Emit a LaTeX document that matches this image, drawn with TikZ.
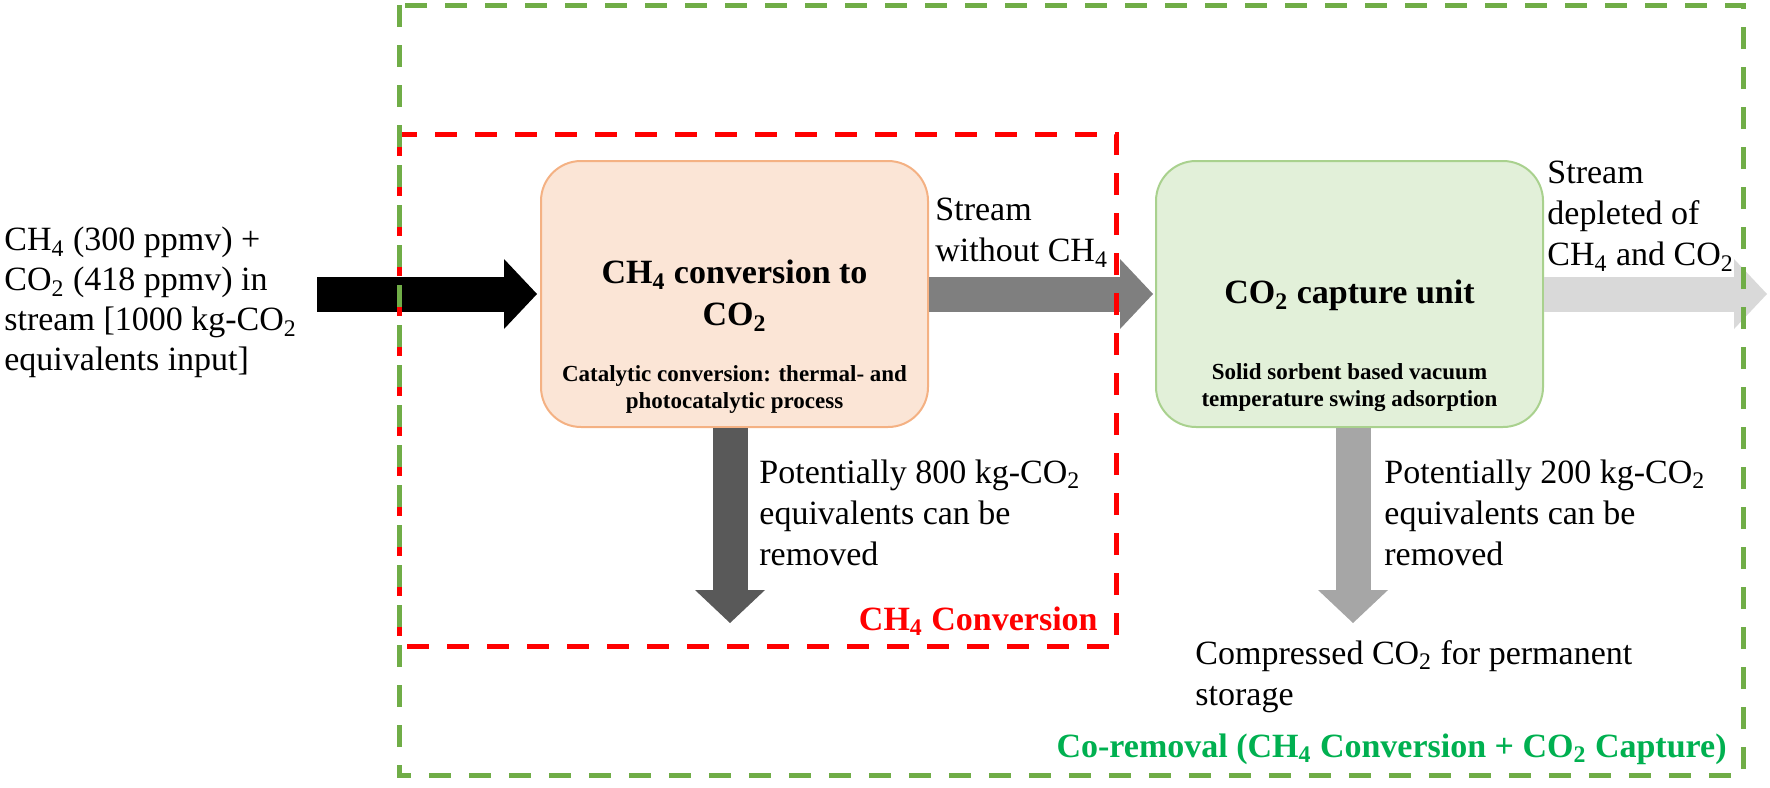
\documentclass[tikz,border=0pt]{standalone}
\usepackage{fontspec}
\setmainfont{Liberation Serif}
\usepackage{xcolor}
\definecolor{convfill}{RGB}{251,229,214}
\definecolor{convline}{RGB}{244,177,131}
\definecolor{capfill}{RGB}{226,240,217}
\definecolor{capline}{RGB}{169,209,142}
\definecolor{zonegreen}{RGB}{112,173,71}
\definecolor{zonered}{RGB}{255,0,0}
\definecolor{labelgreen}{RGB}{0,176,80}
\definecolor{flowdark}{RGB}{89,89,89}
\definecolor{flowmid}{RGB}{127,127,127}
\definecolor{flowlight}{RGB}{217,217,217}
\definecolor{flowdown}{RGB}{166,166,166}
\usepackage{tikz}
\usetikzlibrary{arrows.meta,positioning}

\newcommand{\CHf}{CH\textsubscript{4}}
\newcommand{\COt}{CO\textsubscript{2}}

\begin{document}
\begin{tikzpicture}[
  x=0.5pt, y=-0.5pt,
  unitbox/.style={rounded corners=20pt, line width=1pt, minimum width=193.5pt, minimum height=133pt},
  boxtitle/.style={font=\fontsize{17}{21}\selectfont\bfseries, align=center, inner sep=0pt},
  boxnote/.style={font=\fontsize{11.5}{13.5}\selectfont\bfseries, align=center, inner sep=0pt},
  txt/.style={font=\fontsize{17}{20.5}\selectfont, align=left, inner sep=0pt, anchor=north west},
  zonelabel/.style={font=\fontsize{17}{20}\selectfont\bfseries, anchor=base east, inner sep=0pt},
  zone/.style={line width=2.5pt, dash pattern=on 11pt off 9pt},
  flow/.style={line width=17.5pt, -{Triangle[length=16.5pt, width=35pt, line width=0pt]}}
]
\useasboundingbox (0,0) rectangle (1770,787);

% process units
\node[unitbox, draw=convline, fill=convfill] (conv) at (734.5,294) {};
\node[unitbox, draw=capline, fill=capfill, right=113pt of conv] (cap) {};
\node[boxtitle, below=50pt of conv.north] (convtitle) {\CHf{} conversion to\\\COt};
\node[boxnote, above=7pt of conv.south] (convnote) {Catalytic conversion: thermal- and\\photocatalytic process};
\node[boxtitle, below=60pt of cap.north] (captitle) {\COt{} capture unit};
\node[boxnote, above=8pt of cap.south] (capnote) {Solid sorbent based vacuum\\temperature swing adsorption};

% stream texts
\node[txt, font=\fontsize{17}{20}\selectfont] (intext) at (4,227) {\CHf{} (300 ppmv) +\\\COt{} (418 ppmv) in\\stream [1000 kg-\COt\\equivalents input]};
\node[txt] (midtext) at (935,198) {Stream\\without \CHf};
\node[txt] (outtext) at (1547,161) {Stream\\depleted of\\\CHf{} and \COt};
\node[txt] (convgain) at (759,459) {Potentially 800 kg-\COt\\equivalents can be\\removed};
\node[txt] (capgain) at (1384,459) {Potentially 200 kg-\COt\\equivalents can be\\removed};
\node[txt] (storage) at (1195,640) {Compressed \COt{} for permanent\\storage};

% flows
\coordinate (convout) at (730,623);
\coordinate (capout) at (1353,623);
\coordinate (streamout) at (1767,294);
\draw[flow, black, shorten <=10pt, shorten >=1.5pt] (intext.east |- conv.west) -- (conv.west);
\draw[flow, flowmid, shorten >=1pt] (conv.east) -- (cap.west);
\draw[flow, flowlight] (cap.east) -- (streamout);
\draw[flow, flowdark] (conv.south -| convout) -- (convout);
\draw[flow, flowdown] (cap.south -| capout) -- (capout);

% zones
\draw[zone, zonered] (399,134) rectangle (1116,646);
\draw[zone, zonegreen] (399,5) rectangle (1743,775);
\node[zonelabel, text=zonered] (convzone) at (1098,630) {\CHf{} Conversion};
\node[zonelabel, text=labelgreen] (corezone) at (1727,757) {Co-removal (\CHf{} Conversion + \COt{} Capture)};
\end{tikzpicture}
\end{document}
